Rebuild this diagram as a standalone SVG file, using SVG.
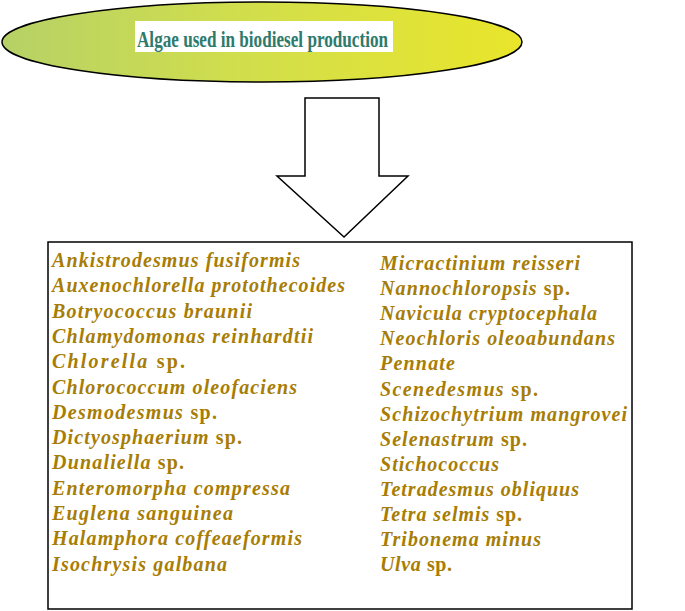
<svg xmlns="http://www.w3.org/2000/svg" width="685" height="611" viewBox="0 0 685 611">
<style>
.sp{font-family:"Liberation Serif","Times New Roman",serif;font-size:20px;font-weight:bold;font-style:italic;fill:#a77d05}
.n{font-style:normal}
.title{font-family:"Liberation Serif","Times New Roman",serif;font-size:24px;font-weight:bold;fill:#2e7a6c}
</style>
<defs>
<linearGradient id="g" x1="0" y1="0" x2="1" y2="0">
<stop offset="0" stop-color="#b6d166"/>
<stop offset="0.5" stop-color="#d3df4a"/>
<stop offset="1" stop-color="#e9e52a"/>
</linearGradient>
</defs>
<g id="header">
<ellipse cx="262" cy="42" rx="260" ry="40" fill="url(#g)" stroke="#000" stroke-width="1.5"/>
<rect x="135" y="21" width="258" height="31" fill="#fff"/>
<text class="title" x="137" y="46.5" textLength="251" lengthAdjust="spacingAndGlyphs">Algae used in biodiesel production</text>
</g>
<g id="connectors">
<polygon points="305,98 379,98 379,176 408,176 344,237 277,176 305,176" fill="#fff" stroke="#000" stroke-width="1.5"/>
</g>
<g id="list">
<rect x="48" y="242" width="584" height="367" fill="#fff" stroke="#000" stroke-width="1.5"/>
<text class="sp" x="52" y="267" textLength="248">Ankistrodesmus fusiformis</text>
<text class="sp" x="52" y="292.3" textLength="293">Auxenochlorella protothecoides</text>
<text class="sp" x="52" y="317.6" textLength="200">Botryococcus braunii</text>
<text class="sp" x="52" y="342.9" textLength="261">Chlamydomonas reinhardtii</text>
<text class="sp" x="52" y="368.2" textLength="133">Chlorella <tspan class="n">sp.</tspan></text>
<text class="sp" x="52" y="393.5" textLength="245">Chlorococcum oleofaciens</text>
<text class="sp" x="52" y="418.8" textLength="165">Desmodesmus <tspan class="n">sp.</tspan></text>
<text class="sp" x="52" y="444.1" textLength="190">Dictyosphaerium <tspan class="n">sp.</tspan></text>
<text class="sp" x="52" y="469.4" textLength="132">Dunaliella <tspan class="n">sp.</tspan></text>
<text class="sp" x="52" y="494.7" textLength="238">Enteromorpha compressa</text>
<text class="sp" x="52" y="520" textLength="181">Euglena sanguinea</text>
<text class="sp" x="52" y="545.3" textLength="250">Halamphora coffeaeformis</text>
<text class="sp" x="52" y="570.6" textLength="175">Isochrysis galbana</text>
<text class="sp" x="380" y="270" textLength="200">Micractinium reisseri</text>
<text class="sp" x="380" y="295.1" textLength="190">Nannochloropsis <tspan class="n">sp.</tspan></text>
<text class="sp" x="380" y="320.2" textLength="217">Navicula cryptocephala</text>
<text class="sp" x="380" y="345.3" textLength="235">Neochloris oleoabundans</text>
<text class="sp" x="380" y="370.4" textLength="75">Pennate</text>
<text class="sp" x="380" y="395.5" textLength="158">Scenedesmus <tspan class="n">sp.</tspan></text>
<text class="sp" x="380" y="420.6" textLength="247">Schizochytrium mangrovei</text>
<text class="sp" x="380" y="445.7" textLength="147">Selenastrum <tspan class="n">sp.</tspan></text>
<text class="sp" x="380" y="470.8" textLength="119">Stichococcus</text>
<text class="sp" x="380" y="495.9" textLength="199">Tetradesmus obliquus</text>
<text class="sp" x="380" y="521" textLength="142">Tetra selmis <tspan class="n">sp.</tspan></text>
<text class="sp" x="380" y="546.1" textLength="161">Tribonema minus</text>
<text class="sp" x="380" y="571.2" textLength="72">Ulva <tspan class="n">sp.</tspan></text>
</g>
</svg>
